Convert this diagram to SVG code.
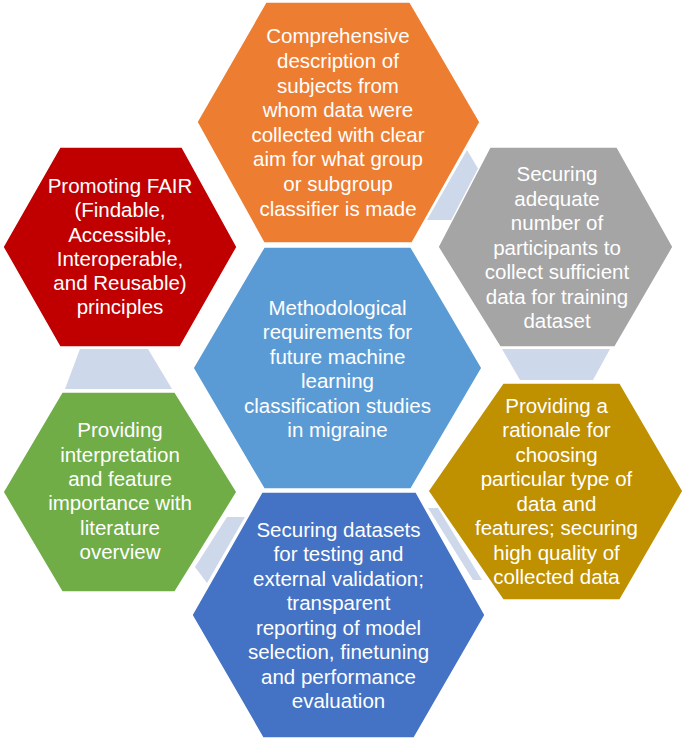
<svg xmlns="http://www.w3.org/2000/svg" width="685" height="742" viewBox="0 0 685 742">
<style>
.hex{stroke:#ffffff;stroke-width:1.5;stroke-linejoin:miter}
.pale{fill:#cdd8eb}
.t{font-family:"Liberation Sans",Arial,sans-serif;font-size:20.5px;fill:#ffffff;text-anchor:middle}
</style>
<rect width="685" height="742" fill="#ffffff"/>
<g id="connectors">
<polygon class="pale" points="467,150 480,172 452,220 427,220"/>
<polygon class="pale" points="502,349 610,349 593,380 520,380"/>
<polygon class="pale" points="428,508 438,508 482,580 473,580"/>
<polygon class="pale" points="227,517 245,517 207,583 195,567"/>
<polygon class="pale" points="80,349 148,349 172,389 65,389"/>
</g>
<g id="node-top">
<polygon class="hex" fill="#ED7D31" points="197,122 266,2 410,2 480,122 412,243 264,243"/>
<text class="t"><tspan x="338" y="43">Comprehensive</tspan><tspan x="338" y="68">description of</tspan><tspan x="338" y="92.5">subjects from</tspan><tspan x="338" y="117">whom data were</tspan><tspan x="338" y="141.5">collected with clear</tspan><tspan x="338" y="166">aim for what group</tspan><tspan x="338" y="191">or subgroup</tspan><tspan x="338" y="215.5">classifier is made</tspan></text>
</g>
<g id="node-topleft">
<polygon class="hex" fill="#C00000" points="3,247 60,147 182,147 237,247 180,347 60,347"/>
<text class="t"><tspan x="120" y="193">Promoting FAIR</tspan><tspan x="120" y="217">(Findable,</tspan><tspan x="120" y="241.5">Accessible,</tspan><tspan x="120" y="266">Interoperable,</tspan><tspan x="120" y="290">and Reusable)</tspan><tspan x="120" y="314">principles</tspan></text>
</g>
<g id="node-topright">
<polygon class="hex" fill="#A5A5A5" points="438,247 490,147 617,147 673,247 615,347 500,347"/>
<text class="t"><tspan x="557" y="181">Securing</tspan><tspan x="557" y="205.5">adequate</tspan><tspan x="557" y="230">number of</tspan><tspan x="557" y="254.5">participants to</tspan><tspan x="557" y="279">collect sufficient</tspan><tspan x="557" y="303.5">data for training</tspan><tspan x="557" y="328">dataset</tspan></text>
</g>
<g id="node-center">
<polygon class="hex" fill="#5B9BD5" points="193,368 264,247 411,247 482,368 411,489 264,489"/>
<text class="t"><tspan x="337.5" y="315">Methodological</tspan><tspan x="337.5" y="339">requirements for</tspan><tspan x="337.5" y="364">future machine</tspan><tspan x="337.5" y="388">learning</tspan><tspan x="337.5" y="413">classification studies</tspan><tspan x="337.5" y="437">in migraine</tspan></text>
</g>
<g id="node-bottomleft">
<polygon class="hex" fill="#70AD47" points="3,492 62,392 175,392 237,492 175,592 62,592"/>
<text class="t"><tspan x="120" y="437">Providing</tspan><tspan x="120" y="461.5">interpretation</tspan><tspan x="120" y="486">and feature</tspan><tspan x="120" y="510">importance with</tspan><tspan x="120" y="534.5">literature</tspan><tspan x="120" y="559">overview</tspan></text>
</g>
<g id="node-bottomright">
<polygon class="hex" fill="#BF9000" points="428,491 503,383 620,383 683,491 620,600 503,600"/>
<text class="t"><tspan x="556.5" y="413">Providing a</tspan><tspan x="556.5" y="437">rationale for</tspan><tspan x="556.5" y="462">choosing</tspan><tspan x="556.5" y="486">particular type of</tspan><tspan x="556.5" y="511">data and</tspan><tspan x="556.5" y="535">features; securing</tspan><tspan x="556.5" y="560">high quality of</tspan><tspan x="556.5" y="584">collected data</tspan></text>
</g>
<g id="node-bottom">
<polygon class="hex" fill="#4472C4" points="192,615 262,492 416,492 485,615 414,738 263,738"/>
<text class="t"><tspan x="338.5" y="537">Securing datasets</tspan><tspan x="338.5" y="561">for testing and</tspan><tspan x="338.5" y="585.5">external validation;</tspan><tspan x="338.5" y="610">transparent</tspan><tspan x="338.5" y="634.5">reporting of model</tspan><tspan x="338.5" y="659">selection, finetuning</tspan><tspan x="338.5" y="683.5">and performance</tspan><tspan x="338.5" y="708">evaluation</tspan></text>
</g>
</svg>
